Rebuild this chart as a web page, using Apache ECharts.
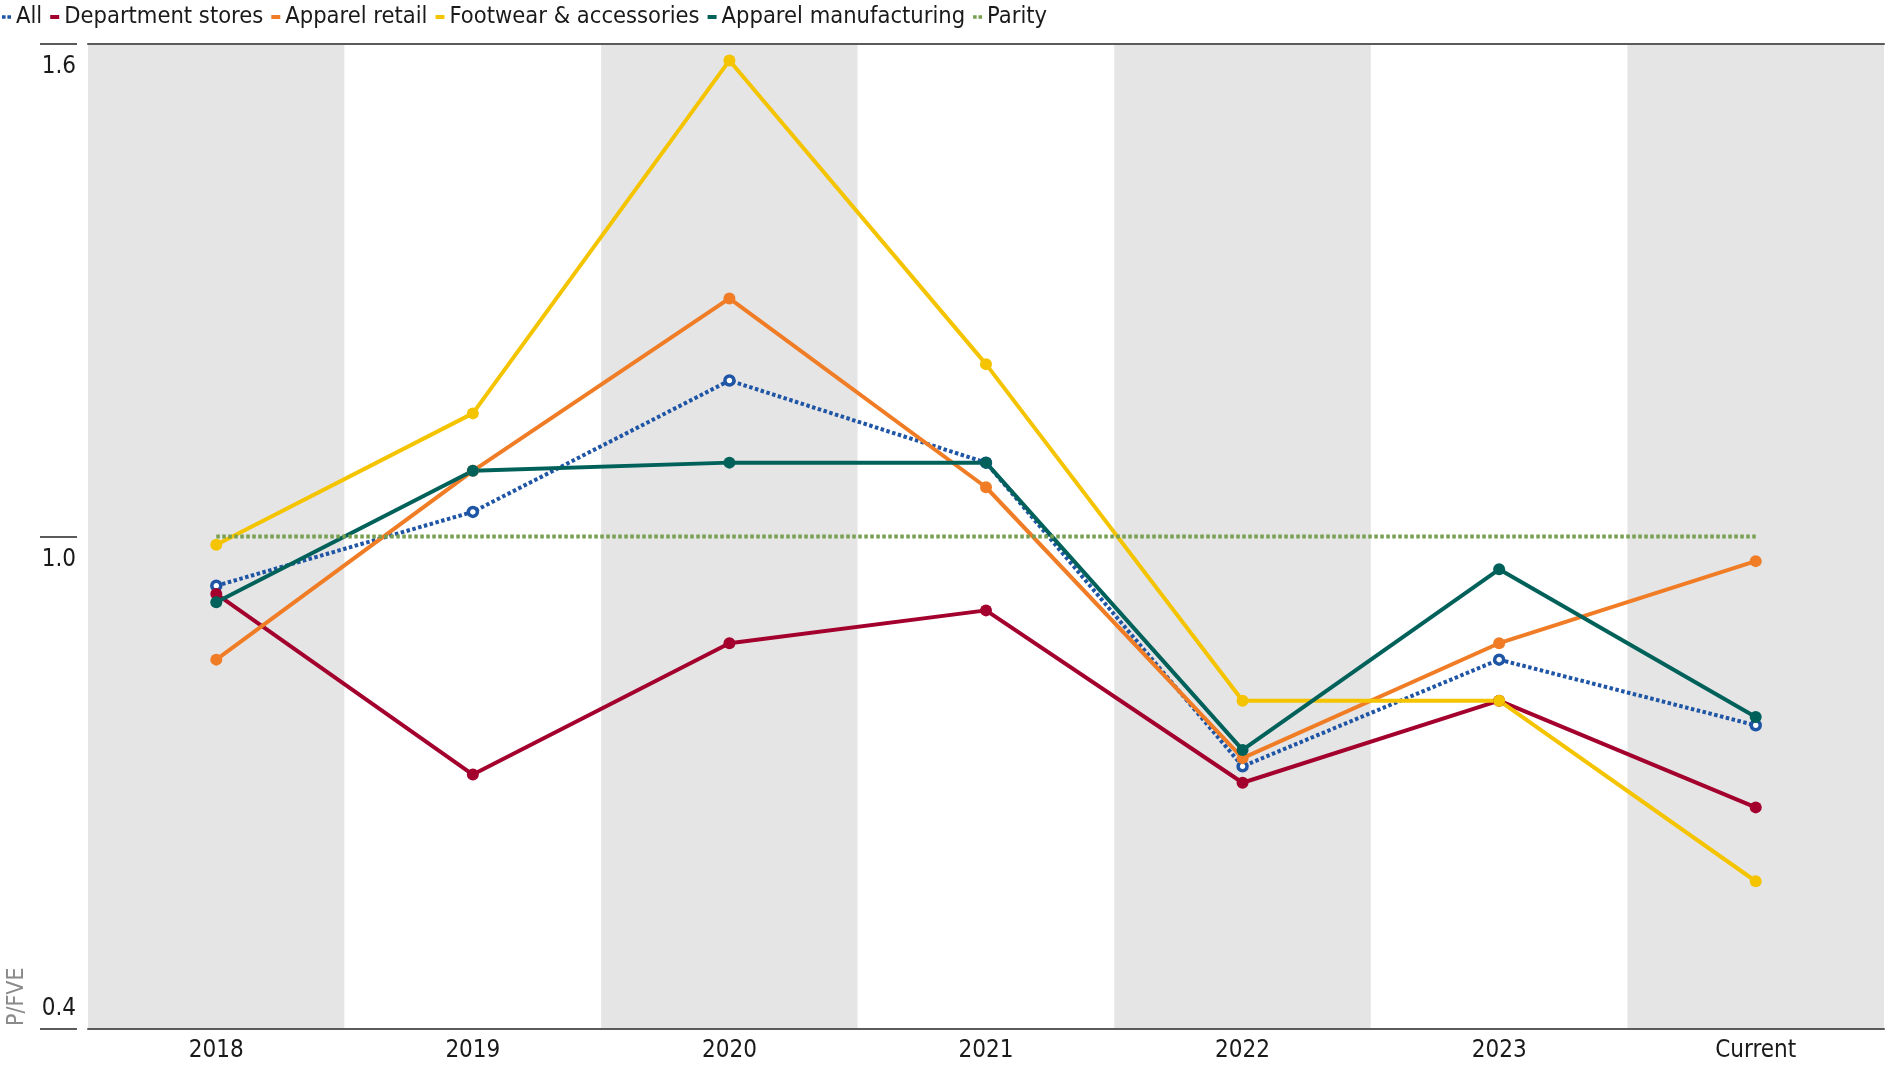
<!DOCTYPE html>
<html>
<head>
<meta charset="utf-8">
<title>P/FVE by segment</title>
<script src="https://cdn.jsdelivr.net/npm/echarts@6/dist/echarts.min.js"></script>
<style>
  html, body { margin: 0; padding: 0; background: #fff; }
  #chart { width: 1896px; height: 1066px; }
</style>
</head>
<body>
<div id="chart"></div>
<script>
// values
var years = ['2018', '2019', '2020', '2021', '2022', '2023', 'Current'];
var allStocks = [0.94, 1.03, 1.19, 1.09, 0.72, 0.85, 0.77];
var deptStores = [0.93, 0.71, 0.87, 0.91, 0.70, 0.80, 0.67];
var apparelRetail = [0.85, 1.08, 1.29, 1.06, 0.73, 0.87, 0.97];
var footwear = [0.99, 1.15, 1.58, 1.21, 0.80, 0.80, 0.58];
var apparelMfg = [0.92, 1.08, 1.09, 1.09, 0.74, 0.96, 0.78];
var parity = [1, 1, 1, 1, 1, 1, 1];
var yMin = 0.4, yMax = 1.6, yStep = 0.6;

var FONT = '"Liberation Sans Narrow", "Arial Narrow", "DejaVu Sans Condensed", sans-serif';
var AXIS_GREY = '#5b5b5b';
var BLUE = '#1f55a5';
var GREEN = '#76a04f';
var dots = 'path://M0,0h4v4h-4zM6,0h4v4h-4z';

function lineSeries(name, data, color) {
    return {
        name: name,
        type: 'line',
        data: data,
        symbol: 'circle',
        symbolSize: 12,
        lineStyle: {color: color, width: 4},
        itemStyle: {color: color},
        emphasis: {disabled: true}
    };
}

function yAxisBase() {
    return {
        type: 'value',
        min: yMin,
        max: yMax,
        interval: yStep,
        position: 'left',
        axisLine: {show: false},
        axisTick: {show: false},
        splitLine: {show: false},
        axisLabel: {show: false}
    };
}

// top labels hang under their tick, the bottom one sits above the axis
var yMain = yAxisBase();
yMain.offset = 11;
yMain.axisTick = {show: true, length: 37, lineStyle: {color: AXIS_GREY, width: 2}};
yMain.axisLabel = {
    show: true, margin: 1, fontSize: 24, color: '#1a1a1a',
    verticalAlign: 'top', padding: [11, 0, 0, 0],
    formatter: function (v) { return v === yMin ? '' : v.toFixed(1); }
};
yMain.splitLine = {show: true, lineStyle: {color: ['rgba(0,0,0,0)', '#c9c9c9', 'rgba(0,0,0,0)'], width: 2}};

var yLow = yAxisBase();
yLow.offset = 11;
yLow.axisLabel = {
    show: true, margin: 1, fontSize: 24, color: '#1a1a1a',
    verticalAlign: 'bottom', padding: [0, 0, 8, 0],
    formatter: function (v) { return v === yMin ? v.toFixed(1) : ''; }
};

var yName = yAxisBase();
yName.offset = 71;
yName.name = 'P/FVE';
yName.nameLocation = 'start';
yName.nameRotate = 90;
yName.nameGap = -3;
yName.nameTextStyle = {fontSize: 23, color: '#8a8a8a', align: 'left', verticalAlign: 'middle'};

var chart = echarts.init(document.getElementById('chart'));
chart.setOption({
    animation: false,
    backgroundColor: '#ffffff',
    textStyle: {fontFamily: FONT},
    grid: {left: 88, right: 12, top: 44, bottom: 37, containLabel: false},
    legend: {
        top: 0,
        left: -3,
        itemWidth: 9,
        itemHeight: 4,
        itemGap: 8,
        textStyle: {fontSize: 23.5, color: '#1a1a1a'},
        data: [
            {name: 'All', icon: dots, itemStyle: {color: BLUE, borderWidth: 0}},
            {name: 'Department stores', icon: 'rect'},
            {name: 'Apparel retail', icon: 'rect'},
            {name: 'Footwear & accessories', icon: 'rect'},
            {name: 'Apparel manufacturing', icon: 'rect'},
            {name: 'Parity', icon: dots, itemStyle: {color: GREEN}}
        ]
    },
    xAxis: [{
        type: 'category',
        data: years,
        boundaryGap: true,
        axisLine: {lineStyle: {color: AXIS_GREY, width: 2}},
        axisTick: {show: false},
        axisLabel: {fontSize: 24, color: '#1a1a1a', margin: 10},
        splitArea: {show: true, areaStyle: {color: ['#e5e5e5', '#ffffff']}}
    }, {
        type: 'category',
        data: years,
        position: 'top',
        axisLine: {lineStyle: {color: AXIS_GREY, width: 2}},
        axisTick: {show: false},
        axisLabel: {show: false}
    }],
    yAxis: [yMain, yLow, yName],
    series: [
        {
            name: 'All',
            type: 'line',
            data: allStocks,
            symbol: 'circle',
            symbolSize: 9,
            lineStyle: {color: BLUE, width: 4, type: [3.5, 2.5]},
            itemStyle: {color: '#ffffff', borderColor: BLUE, borderWidth: 3.5},
            emphasis: {disabled: true}
        },
        lineSeries('Department stores', deptStores, '#a3002e'),
        lineSeries('Apparel retail', apparelRetail, '#f07d26'),
        lineSeries('Footwear & accessories', footwear, '#f5c400'),
        lineSeries('Apparel manufacturing', apparelMfg, '#00615b'),
        {
            name: 'Parity',
            type: 'line',
            data: parity,
            symbol: 'none',
            lineStyle: {color: GREEN, width: 4, type: [3.5, 2.5]},
            itemStyle: {color: GREEN},
            emphasis: {disabled: true}
        }
    ]
});
</script>
</body>
</html>
